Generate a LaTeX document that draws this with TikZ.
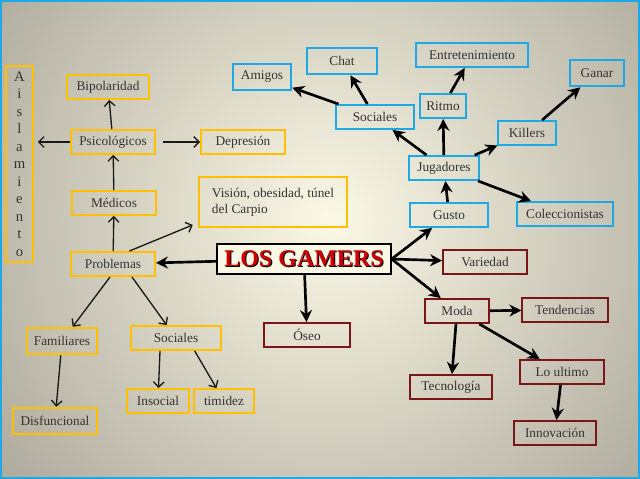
\documentclass[tikz,border=0pt]{standalone}
\usepackage{fontspec}
\setmainfont{Liberation Serif}
\usetikzlibrary{arrows.meta}
\definecolor{yel}{HTML}{FFC000}
\definecolor{blu}{HTML}{1FA8E8}
\definecolor{drd}{HTML}{7A1518}
\definecolor{bgin}{HTML}{FBF8E6}
\definecolor{bgout}{HTML}{9A968A}
\begin{document}
\begin{tikzpicture}[x=0.75pt,y=-0.75pt,
  ybox/.style={draw=yel,line width=1.4pt,minimum height=18pt,inner xsep=4pt,font=\fontsize{10}{12}\selectfont,text=black!80},
  bbox/.style={draw=blu,line width=1.4pt,minimum height=18pt,inner xsep=4pt,font=\fontsize{10}{12}\selectfont,text=black!80},
  rbox/.style={draw=drd,line width=1.4pt,minimum height=18pt,inner xsep=4pt,font=\fontsize{10}{12}\selectfont,text=black!80},
  ya/.style={-{Straight Barb[length=4pt,width=8pt]},line width=1pt,draw=black!90},
  ta/.style={-{Stealth[length=9pt,width=9pt]},line width=2pt}]
\useasboundingbox (0,0) rectangle (640,479);
\shade[inner color=bgin,outer color=bgout] (-200,-260) rectangle (840,700);
\clip (0,0) rectangle (640,479);
\shade[inner color=bgin,outer color=bgin!20!bgout] (330,220) circle (420);
\draw[blu,line width=1.5pt] (0.8,0.8) rectangle (639.2,478.2);
% yellow part
\node[draw=yel,line width=1.4pt,minimum width=20pt,minimum height=147pt,inner sep=0pt,align=center,font=\fontsize{11}{13.1}\selectfont,text=black!80] (ais) at (19.5,164) {A\\i\\s\\l\\a\\m\\i\\e\\n\\t\\o};
\node[ybox,minimum width=62pt] (bip) at (108,87) {Bipolaridad};
\node[ybox,minimum width=63pt] (psi) at (113,142) {Psicológicos};
\node[ybox,minimum width=63pt] (dep) at (243,142) {Depresión};
\node[ybox,minimum width=63pt] (med) at (114,203) {Médicos};
\node[ybox,minimum width=111pt,minimum height=37pt,align=left] (vis) at (273,202) {Visión, obesidad, túnel\\del Carpio};
\node[ybox,minimum width=63pt] (pro) at (113,264) {Problemas};
\node[ybox,minimum width=52pt,minimum height=20pt] (fam) at (62,341) {Familiares};
\node[ybox,minimum width=67pt] (soy) at (176,338) {Sociales};
\node[ybox,minimum width=63pt,minimum height=20pt] (dis) at (55,421) {Disfuncional};
\node[ybox,minimum width=47pt] (ins) at (158,401) {Insocial};
\node[ybox,minimum width=45pt] (tim) at (224,401) {timidez};
% center
\node[draw=black,line width=1.5pt,fill=bgin,minimum width=130pt,minimum height=22pt,inner sep=0pt] (lg) at (304,259) {};
\node[font=\fontsize{18}{20}\selectfont\bfseries,text=black] at ([xshift=0.8pt,yshift=-0.8pt]lg.center) {LOS GAMERS};
\node[font=\fontsize{18}{20}\selectfont\bfseries,text=red!80!black] at (lg.center) {LOS GAMERS};
\node[rbox,minimum width=64pt] (ose) at (307,335) {Óseo};
\node[rbox,minimum width=63pt] (var) at (485,262) {Variedad};
\node[rbox,minimum width=48pt] (mod) at (457,311) {Moda};
\node[rbox,minimum width=64pt] (ten) at (565,310) {Tendencias};
\node[rbox,minimum width=62pt] (tec) at (451,387) {Tecnología};
\node[rbox,minimum width=63pt] (ult) at (562,372) {Lo ultimo};
\node[rbox,minimum width=62pt] (inn) at (555,433) {Innovación};
\node[bbox,minimum width=58pt] (gus) at (449,215) {Gusto};
\node[bbox,minimum width=72pt] (col) at (565,214) {Coleccionistas};
\node[bbox,minimum width=52pt] (jug) at (444,168) {Jugadores};
\node[bbox,minimum width=43pt] (kil) at (527,133) {Killers};
\node[bbox,minimum width=40pt,minimum height=20pt] (gan) at (597,73) {Ganar};
\node[bbox,minimum width=35pt] (rit) at (443,106) {Ritmo};
\node[bbox,minimum width=84pt] (ent) at (472,55) {Entretenimiento};
\node[bbox,minimum width=58pt] (sob) at (375,117) {Sociales};
\node[bbox,minimum width=52pt,minimum height=20pt] (cha) at (342,61) {Chat};
\node[bbox,minimum width=44pt,minimum height=20pt] (ami) at (262,77) {Amigos};
% yellow arrows
\draw[ya] (pro) -- (med);
\draw[ya] (med) -- (psi);
\draw[ya] (psi) -- (bip);
\draw[ya] (psi.west) -- ([xshift=3pt]ais.east |- psi.west);
\draw[ya] ([xshift=5pt]psi.east) -- (dep);
\draw[ya] ([xshift=-20pt]pro.north east) -- ([xshift=-4pt,yshift=2pt]vis.south west);
\draw[ya] ([xshift=30pt]pro.south west) -- (fam);
\draw[ya] ([xshift=-18pt]pro.south east) -- (soy);
\draw[ya] (fam) -- (dis);
\draw[ya] ([xshift=-12pt]soy.south) -- (ins);
\draw[ya] ([xshift=14pt]soy.south) -- (tim);
% thick arrows
\draw[ta] (lg) -- (pro);
\draw[ta] (lg) -- (ose);
\draw[ta] (lg.east) -- (var);
\draw[ta] (lg.east) -- (mod);
\draw[ta] (lg.east) -- (gus);
\draw[ta] (mod) -- (ten);
\draw[ta] (mod) -- (tec);
\draw[ta] (mod) -- (ult);
\draw[ta] (ult) -- (inn);
\draw[ta] (gus) -- (jug);
\draw[ta] (jug) -- (col);
\draw[ta] (jug) -- (kil);
\draw[ta] (jug) -- (rit);
\draw[ta] (jug) -- (sob);
\draw[ta] (kil) -- (gan);
\draw[ta] (rit) -- (ent);
\draw[ta] (sob) -- (cha);
\draw[ta] (sob) -- (ami);
\end{tikzpicture}
\end{document}
